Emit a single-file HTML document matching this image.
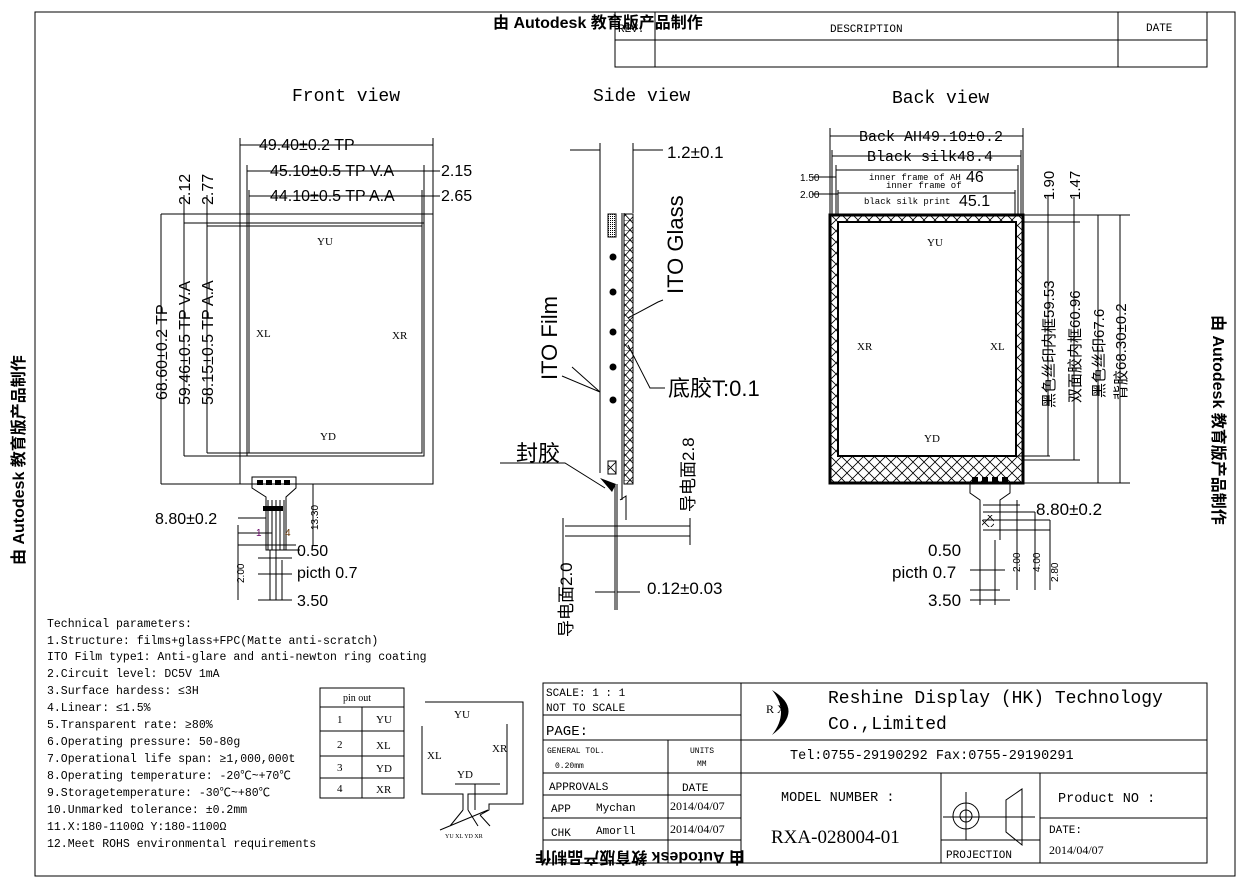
<!DOCTYPE html>
<html><head><meta charset="utf-8"><style>
html,body{margin:0;padding:0;background:#fff;}
svg{display:block;}
.s{font-family:"Liberation Sans","Noto Sans CJK SC",sans-serif;}
.m{font-family:"Liberation Mono","Noto Sans CJK SC",monospace;}
.r{font-family:"Liberation Serif","Noto Serif CJK SC",serif;}
</style></head><body>
<svg width="1241" height="878" viewBox="0 0 1241 878" xmlns="http://www.w3.org/2000/svg">
<defs>
<pattern id="hx" width="11" height="11" patternUnits="userSpaceOnUse"><path d="M0 0L11 11M11 0L0 11" stroke="#000" stroke-width="0.8"/></pattern>
<pattern id="hg" width="9" height="10" patternUnits="userSpaceOnUse"><path d="M0 0L9 10M9 0L0 10M0 0H9" stroke="#000" stroke-width="0.8"/></pattern>
<pattern id="dt" width="2" height="2" patternUnits="userSpaceOnUse"><rect width="1" height="1" fill="#000"/></pattern>
</defs>
<rect width="1241" height="878" fill="#fff"/>
<g fill="none" stroke="#000" stroke-width="1">
<path d="M35 12H1235V876H35Z"/>
<path d="M615 12V67H1207V12M615 40H1207M655 12V67M1118 12V67"/>
</g>
<g class="s" font-weight="bold" font-size="16">
<text x="493" y="28">由 Autodesk 教育版产品制作</text>
<text transform="translate(24,565) rotate(-90)">由 Autodesk 教育版产品制作</text>
<text transform="translate(1213,315) rotate(90)">由 Autodesk 教育版产品制作</text>
<text transform="translate(745,852) rotate(180)">由 Autodesk 教育版产品制作</text>
</g>
<g class="m" font-size="11">
<text x="618" y="32">REV.</text><text x="830" y="32">DESCRIPTION</text><text x="1146" y="31">DATE</text>
</g>
<g class="m" font-size="18">
<text x="292" y="101">Front view</text><text x="593" y="101">Side view</text><text x="892" y="103">Back view</text>
</g>

<!-- FRONT VIEW -->
<g fill="none" stroke="#000" stroke-width="1">
<rect x="240" y="214" width="193" height="270"/>
<rect x="247" y="223" width="177" height="233"/>
<rect x="249" y="226" width="173" height="227"/>
<path d="M240 214V138M433 214V138M240 145H433M247 223V165M424 223V165M247 171H433M249 226V190M422 226V190M249 196H433"/>
<path d="M161 214H240M161 484H252M161 214V484M184 223H247M184 456H249M184 223V456M207 226H249M207 453H249M207 226V453"/>
<path d="M184 223V195M207 226V195M433 171H440M433 196H440"/>
<path d="M252 477H296V488L286 497V550H266V497L252 488Z"/>
<path d="M268 500V550M272 500V550M276 500V550M280 500V550M284 500V550"/>
<path d="M238 518H266M238 525V600M238 533H272M238 545H296M270 550V600M276 550V600M270 560V600M282 560V600M276 590V600"/>
<path d="M313 484V545M266 550H300"/>
<path d="M258 558H292M258 574H292M258 600H292"/>
</g>
<g fill="#000"><rect x="257" y="480" width="6" height="5"/><rect x="266" y="480" width="6" height="5"/><rect x="275" y="480" width="6" height="5"/><rect x="284" y="480" width="6" height="5"/><rect x="263" y="506" width="20" height="5"/></g>
<g class="s" font-size="16">
<text x="259" y="150">49.40±0.2 TP</text>
<text x="270" y="176">45.10±0.5 TP V.A</text>
<text x="270" y="201">44.10±0.5 TP A.A</text>
<text x="441" y="176">2.15</text>
<text x="441" y="201">2.65</text>
<text transform="translate(167,400) rotate(-90)">68.60±0.2 TP</text>
<text transform="translate(190,405) rotate(-90)">59.46±0.5 TP V.A</text>
<text transform="translate(213,405) rotate(-90)">58.15±0.5 TP A.A</text>
<text transform="translate(190,205) rotate(-90)">2.12</text>
<text transform="translate(213,205) rotate(-90)">2.77</text>
<text x="155" y="524">8.80±0.2</text>
<text x="297" y="556">0.50</text>
<text x="297" y="578">picth 0.7</text>
<text x="297" y="606">3.50</text>
</g>
<g class="s" font-size="10"><text transform="translate(318,530) rotate(-90)">13.30</text><text transform="translate(244,583) rotate(-90)">2.00</text><text x="256" y="536" fill="#606">1</text><text x="285" y="536" fill="#630">4</text></g>
<g class="r" font-size="11"><text x="317" y="245">YU</text><text x="256" y="337">XL</text><text x="392" y="339">XR</text><text x="320" y="440">YD</text></g>

<!-- SIDE VIEW -->
<g fill="none" stroke="#000" stroke-width="1">
<path d="M600 143V213M633 143V213M570 150H600M633 150H663"/>
<path d="M600 213V473M622 213V500M624 213V484"/>
<rect x="624" y="214" width="9" height="270" fill="url(#hg)"/>
<rect x="608" y="214" width="8" height="23" fill="url(#dt)"/>
<rect x="608" y="461" width="8" height="13" fill="url(#hx)"/>
<path d="M615 484V610M617 484V610M565 526H690M565 536H690M563 518V595M690 518V545M595 592H615M617 592H640"/>
<path d="M572 367L600 392M562 376L600 392M663 300L658 302L628 318M665 388L650 388L628 345M500 463H565L605 488"/>
<path d="M620 500L626 496V520"/>
</g>
<g fill="#000"><circle cx="613" cy="257" r="3.5"/><circle cx="613" cy="292" r="3.5"/><circle cx="613" cy="332" r="3.5"/><circle cx="613" cy="367" r="3.5"/><circle cx="613" cy="400" r="3.5"/><path d="M600 478L616 484L612 492Z"/></g>
<g class="s" font-size="22">
<text transform="translate(557,380) rotate(-90)">ITO Film</text>
<text transform="translate(683,294) rotate(-90)">ITO Glass</text>
<text x="668" y="396">底胶T:0.1</text>
<text x="516" y="461">封胶</text>
</g>
<g class="s" font-size="17">
<text x="667" y="158">1.2±0.1</text>
<text x="647" y="594">0.12±0.03</text>
<text transform="translate(694,512) rotate(-90)">导电面2.8</text>
<text transform="translate(572,637) rotate(-90)">导电面2.0</text>
</g>

<!-- BACK VIEW -->
<g fill="none" stroke="#000">
<path d="M830 215H1023V483H830Z M838 222H1016V456H838Z" fill="url(#hx)" fill-rule="evenodd" stroke-width="1"/>
<rect x="830" y="215" width="193" height="268" stroke-width="3"/>
<rect x="838" y="222" width="178" height="234" stroke-width="2"/>
<g stroke-width="1">
<path d="M830 215V128M1023 215V128M830 136H1023M832 215V150M1021 215V150M832 156H1021M836 170H1018M838 193H1015M1018 215V165M1015 215V190M836 215V165M838 215V190M812 177H836M812 194H838"/>
<path d="M1023 215H1130M1023 483H1130M1023 222H1060M1016 456H1050M1023 222H1080M1023 460H1080M1048 222V456M1048 195V222M1074 197V460M1098 215V483M1120 215V483"/>
<path d="M970 483V493L980 500V540M1010 483V493L1000 500V540M983 505H1020M983 512H1035M983 520H1050M983 530H1050M1017 500V590M1035 512V590M1050 520V590M970 590H1000M970 570H1005M970 600H1010M980 540V605M995 540V605"/>
</g></g>
<g fill="#000"><rect x="972" y="477" width="6" height="6"/><rect x="982" y="477" width="6" height="6"/><rect x="992" y="477" width="6" height="6"/><rect x="1002" y="477" width="6" height="6"/><rect x="982" y="515" width="12" height="12" fill="url(#hx)"/></g>
<g class="m" font-size="15">
<text x="859" y="141">Back AH49.10±0.2</text>
<text x="867" y="161">Black silk48.4</text>
</g>
<g class="m" font-size="9"><text x="869" y="180">inner frame of AH</text><text x="886" y="188">inner frame of</text><text x="864" y="204">black silk print</text></g>
<g class="s" font-size="16"><text x="966" y="182">46</text><text x="959" y="206">45.1</text></g>
<g class="s" font-size="10"><text x="800" y="181">1.50</text><text x="800" y="198">2.00</text></g>
<g class="s" font-size="15">
<text transform="translate(1054,200) rotate(-90)">1.90</text>
<text transform="translate(1080,200) rotate(-90)">1.47</text>
<text transform="translate(1054,408) rotate(-90)">黑色丝印内框59.53</text>
<text transform="translate(1080,403) rotate(-90)">双面胶内框60.96</text>
<text transform="translate(1104,398) rotate(-90)">黑色丝印67.6</text>
<text transform="translate(1126,400) rotate(-90)">背胶68.30±0.2</text>
</g>
<g class="s" font-size="17"><text x="1036" y="515">8.80±0.2</text><text x="928" y="556">0.50</text><text x="892" y="578">picth 0.7</text><text x="928" y="606">3.50</text></g>
<g class="s" font-size="10"><text transform="translate(1020,572) rotate(-90)">2.00</text><text transform="translate(1040,572) rotate(-90)">4.00</text><text transform="translate(1058,582) rotate(-90)">2.80</text></g>
<g class="r" font-size="11"><text x="927" y="246">YU</text><text x="857" y="350">XR</text><text x="990" y="350">XL</text><text x="924" y="442">YD</text></g>

<!-- TECH -->
<g class="m" font-size="11.5">
<text x="47" y="627">Technical parameters:</text>
<text x="47" y="644">1.Structure: films+glass+FPC(Matte anti-scratch)</text>
<text x="47" y="660">ITO Film type1: Anti-glare and anti-newton ring coating</text>
<text x="47" y="677">2.Circuit level: DC5V 1mA</text>
<text x="47" y="694">3.Surface hardess: ≤3H</text>
<text x="47" y="711">4.Linear: ≤1.5%</text>
<text x="47" y="728">5.Transparent rate: ≥80%</text>
<text x="47" y="745">6.Operating pressure: 50-80g</text>
<text x="47" y="762">7.Operational life span: ≥1,000,000t</text>
<text x="47" y="779">8.Operating temperature: -20℃~+70℃</text>
<text x="47" y="796">9.Storagetemperature: -30℃~+80℃</text>
<text x="47" y="813">10.Unmarked tolerance: ±0.2mm</text>
<text x="47" y="830">11.X:180-1100Ω  Y:180-1100Ω</text>
<text x="47" y="847">12.Meet ROHS environmental requirements</text>
</g>
<g fill="none" stroke="#000">
<path d="M320 688H404V798H320ZM320 707H404M320 731H404M320 756H404M320 778H404M362 707V798"/>
<path d="M425 702H523V804H489V810L480 815M422 726V794H463V810M507 724V794H468V810M463 810L450 826M468 810L478 826M480 815L490 826M455 784H500M475 784V810M440 830L488 810"/>
</g>
<g class="r" font-size="10"><text x="343" y="701">pin out</text></g>
<g class="r" font-size="11"><text x="337" y="723">1</text><text x="376" y="723">YU</text><text x="337" y="748">2</text><text x="376" y="749">XL</text><text x="337" y="771">3</text><text x="376" y="772">YD</text><text x="337" y="792">4</text><text x="376" y="793">XR</text>
<text x="454" y="718">YU</text><text x="427" y="759">XL</text><text x="492" y="752">XR</text><text x="457" y="778">YD</text></g>
<g class="r" font-size="6"><text x="445" y="838">YU XL YD XR</text></g>

<!-- TITLE BLOCK -->
<g fill="none" stroke="#000">
<path d="M543 683H1207V863H543ZM741 683V863M543 715H741M543 740H1207M668 740V863M543 773H1207M543 795H741M543 818H741M543 840H741M941 773V863M1040 773V863M1040 818H1207M941 840H1040"/>
<path d="M943 817H1035M966 792V840M1006 817H1035M1006 800V832L1022 845V789Z"/>
<circle cx="966" cy="816" r="13"/><circle cx="966" cy="816" r="6"/>
</g>
<path d="M772 690Q805 710 772 735Q790 712 772 690Z" fill="#000"/>
<g class="m" font-size="11"><text x="546" y="696">SCALE: 1 : 1</text><text x="546" y="711">NOT TO SCALE</text><text x="549" y="790">APPROVALS</text><text x="682" y="791">DATE</text><text x="551" y="812">APP</text><text x="596" y="811">Mychan</text><text x="551" y="836">CHK</text><text x="596" y="834">Amorll</text>
<text x="946" y="858">PROJECTION</text><text x="1049" y="833">DATE:</text></g>
<g class="m" font-size="14"><text x="546" y="735">PAGE:</text></g>
<g class="m" font-size="8"><text x="547" y="753">GENERAL TOL.</text><text x="555" y="768">0.20mm</text><text x="690" y="753">UNITS</text><text x="697" y="766">MM</text></g>
<g class="r" font-size="12"><text x="670" y="810">2014/04/07</text><text x="670" y="833">2014/04/07</text><text x="1049" y="854">2014/04/07</text><text x="766" y="713">R X</text></g>
<g class="m" font-size="18"><text x="828" y="703">Reshine Display (HK) Technology</text><text x="828" y="729">Co.,Limited</text></g>
<g class="m" font-size="13.5"><text x="790" y="759">Tel:0755-29190292  Fax:0755-29190291</text><text x="781" y="801">MODEL NUMBER :</text><text x="1058" y="802">Product NO :</text></g>
<g class="r" font-size="19"><text x="771" y="843">RXA-028004-01</text></g>
</svg>
</body></html>
